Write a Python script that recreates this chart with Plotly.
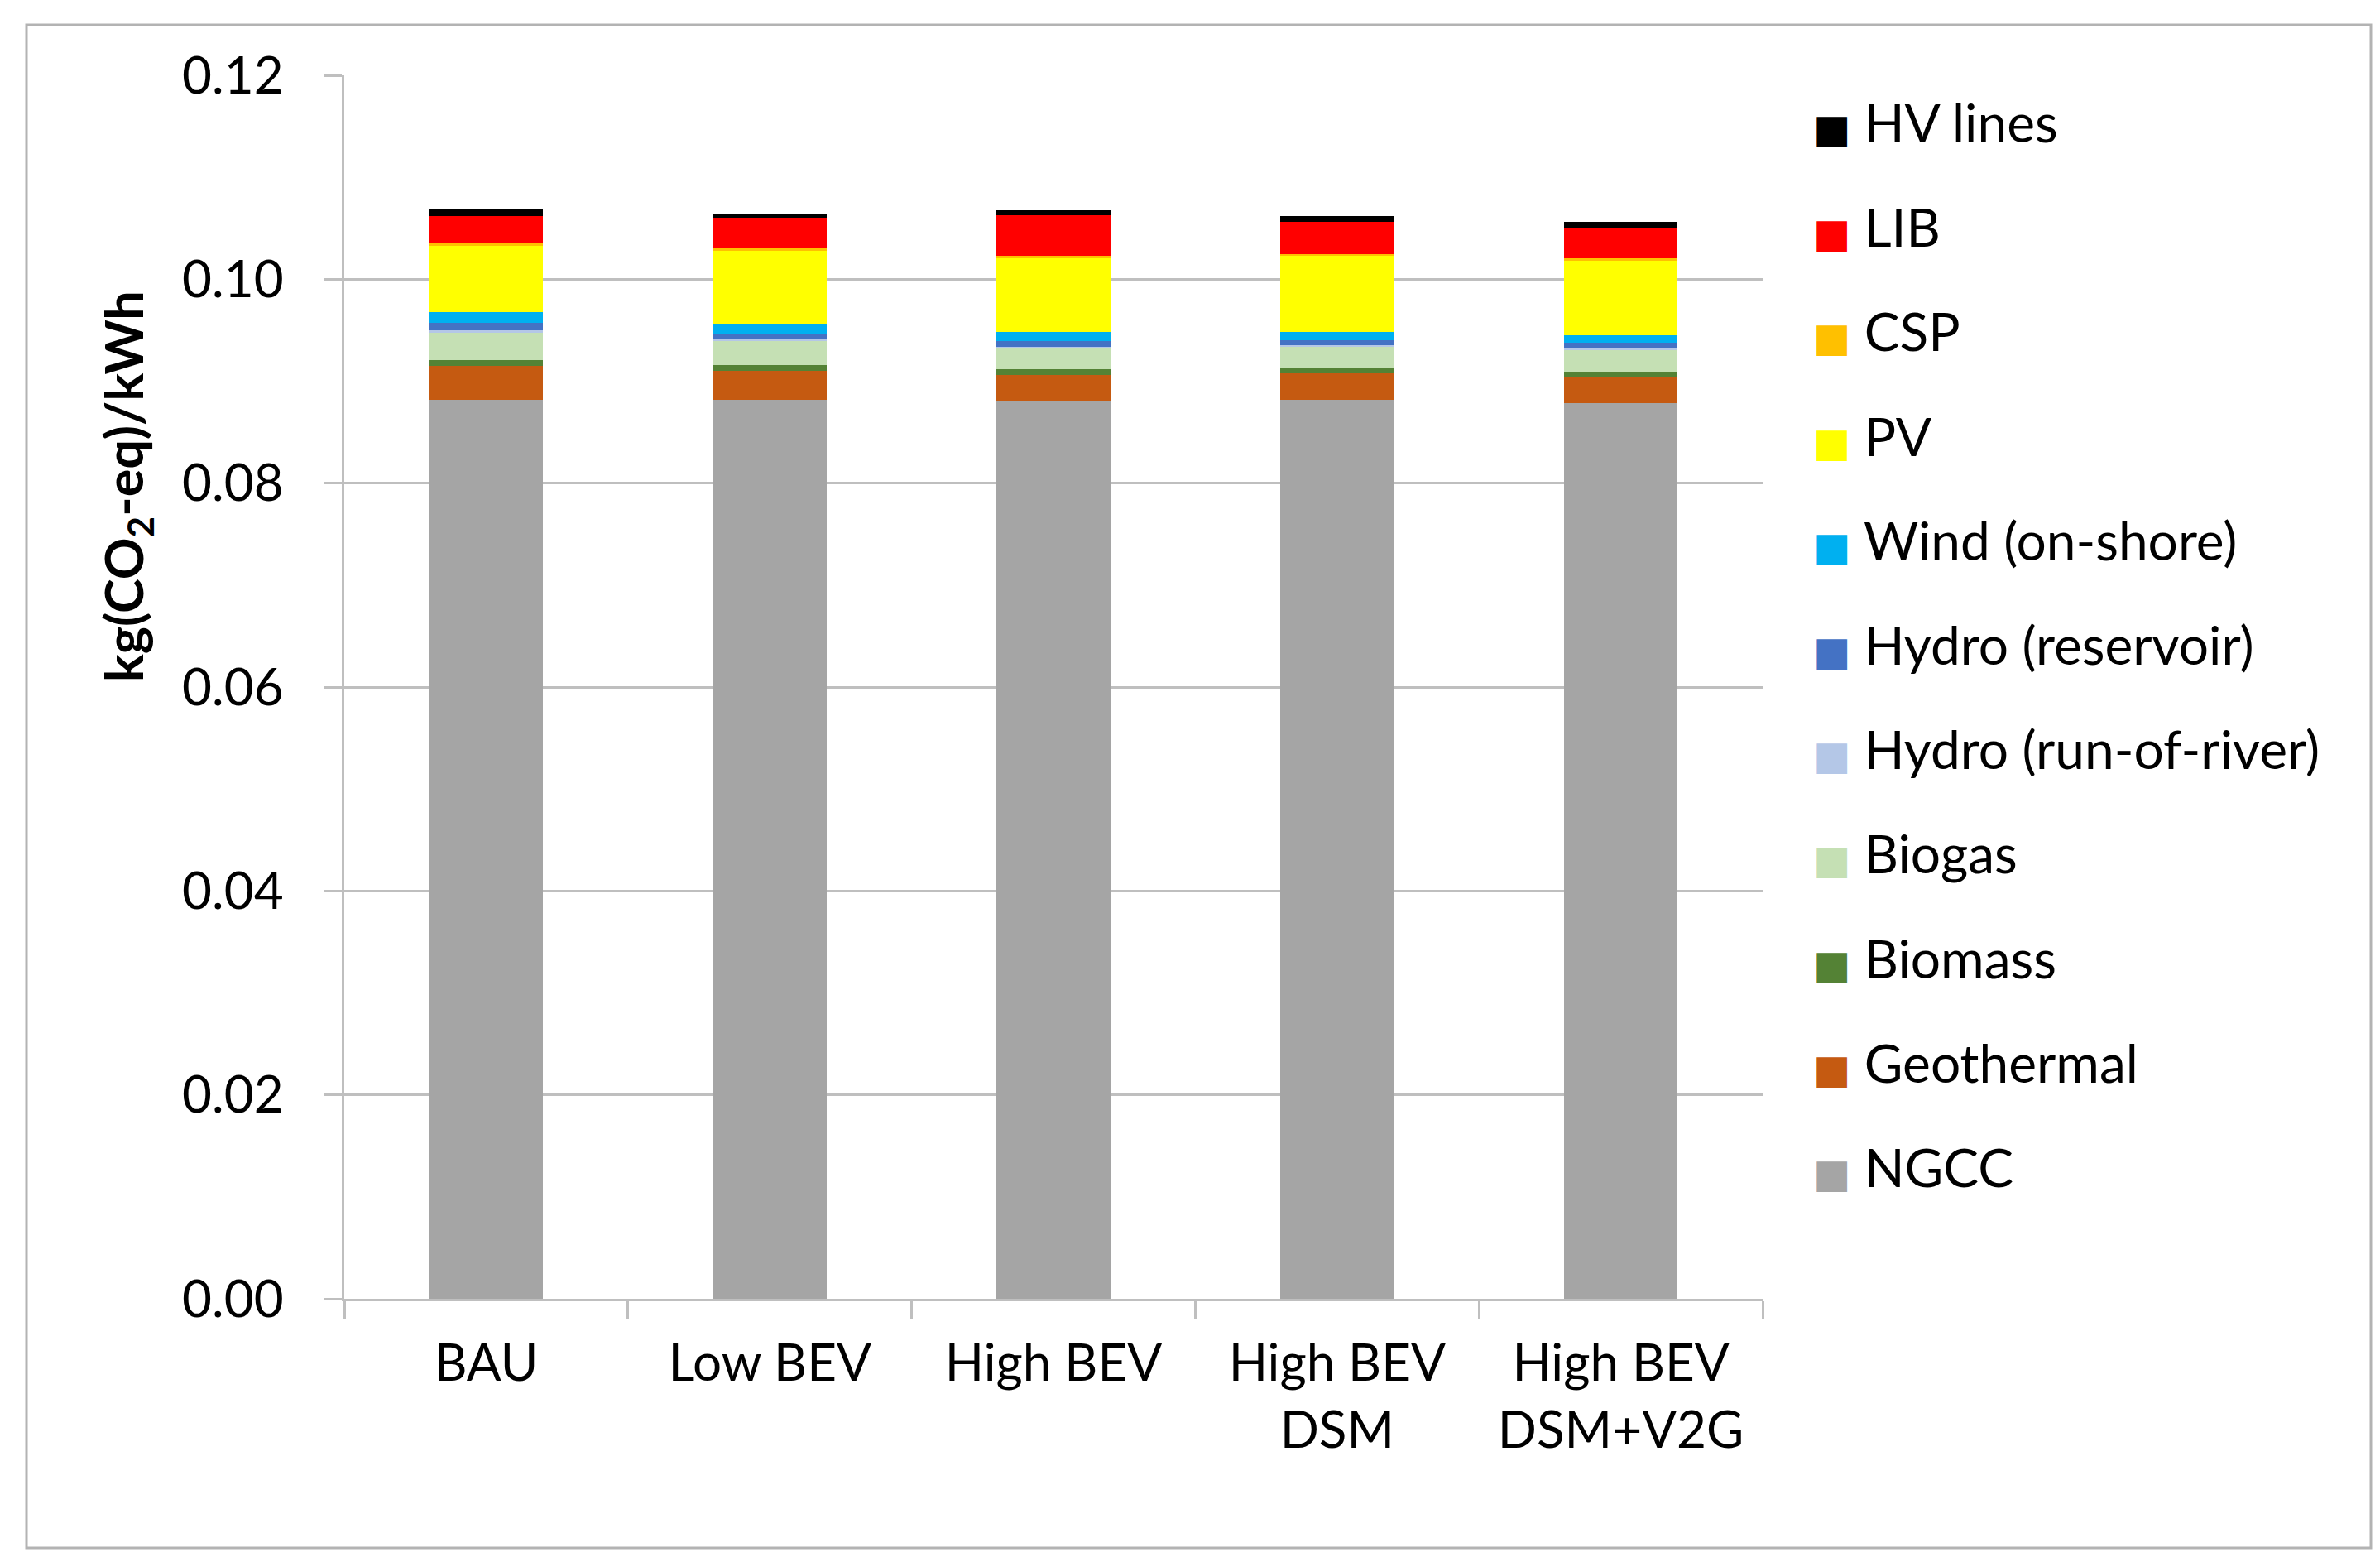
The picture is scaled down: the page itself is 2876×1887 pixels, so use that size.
import plotly.graph_objects as go

categories = ["BAU", "Low BEV", "High BEV", "High BEV<br>DSM", "High BEV<br>DSM+V2G"]

series_names = ["NGCC", "Geothermal", "Biomass", "Biogas", "Hydro (run-of-river)",
                "Hydro (reservoir)", "Wind (on-shore)", "PV", "CSP", "LIB", "HV lines"]

ngcc       = [0.08815, 0.08815, 0.08801, 0.08815, 0.08788]
geothermal = [0.00338, 0.00289, 0.00263, 0.00262, 0.00248]
biomass    = [0.00054, 0.00054, 0.00054, 0.00054, 0.00049]
biogas     = [0.00276, 0.00239, 0.00203, 0.00203, 0.00222]
hydro_ror  = [0.00016, 0.00013, 0.00013, 0.00022, 0.00022]
hydro_res  = [0.00073, 0.00046, 0.00057, 0.00046, 0.00046]
wind       = [0.00109, 0.00103, 0.00092, 0.00081, 0.00073]
pv         = [0.00649, 0.00717, 0.00723, 0.00744, 0.00733]
csp        = [0.00019, 0.00027, 0.00021, 0.00022, 0.00022]
lib        = [0.00271, 0.00298, 0.00401, 0.00311, 0.00295]
hv_lines   = [0.00062, 0.00046, 0.00046, 0.00060, 0.00062]

series_values = [ngcc, geothermal, biomass, biogas, hydro_ror, hydro_res,
                 wind, pv, csp, lib, hv_lines]
series_colors = ["#a5a5a5", "#c55a11", "#548235", "#c5e0b4", "#b4c7e7",
                 "#4472c4", "#00b0f0", "#ffff00", "#ffc000", "#ff0000", "#000000"]

y_ticks = [0.00, 0.02, 0.04, 0.06, 0.08, 0.10, 0.12]

W, H = 2876, 1887
L, R, T, B = 408, 754, 83, 326
pw = W - L - R
ph = H - T - B

def px_x(x):
    return (x - L) / pw

def px_y(y):
    return 1 - (y - T) / ph

FONT = "Lato"
fig = go.Figure()
# stacked bars (bottom to top)
for name, vals, col in zip(series_names, series_values, series_colors):
    fig.add_trace(go.Bar(
        name=name, x=categories, y=vals,
        marker=dict(color=col, line=dict(width=0)),
        legendgroup=name, showlegend=False,
    ))

# legend entries (top to bottom, as in the reference) with a large square key
for name, col in reversed(list(zip(series_names, series_colors))):
    label = ('<span style="font-family:DejaVu Sans;font-size:48px;color:%s">\u25A0</span> %s'
             % (col, name))
    fig.add_trace(go.Scatter(
        name=label, x=[None], y=[None], mode="markers",
        marker=dict(symbol="square", size=1, color="rgba(0,0,0,0)", opacity=0,
                    line=dict(width=0, color="rgba(0,0,0,0)")),
        legendgroup=name, showlegend=True, hoverinfo="skip",
    ))

grid = "#bfbfbf"
fig.update_layout(
    width=W, height=H,
    barmode="stack", bargap=0.6,
    paper_bgcolor="white", plot_bgcolor="white",
    margin=dict(l=L, r=R, t=T, b=B, autoexpand=False),
    font=dict(family=FONT, size=62, color="black"),
    xaxis=dict(
        type="category",
        showgrid=False, showline=True, linecolor=grid, linewidth=3,
        ticks="outside", tickson="boundaries", ticklen=22, tickwidth=3, tickcolor=grid,
        tickfont=dict(family=FONT, size=62), ticklabelstandoff=22,
    ),
    yaxis=dict(
        range=[0, 0.12], tickvals=y_ticks, tickformat=".2f",
        showgrid=True, gridcolor=grid, gridwidth=3,
        showline=True, linecolor=grid, linewidth=3,
        ticks="outside", ticklen=21, tickwidth=3, tickcolor=grid,
        tickfont=dict(family=FONT, size=62), ticklabelstandoff=37,
        zeroline=False,
    ),
    legend=dict(
        x=px_x(2143), y=px_y(91), xanchor="left", yanchor="top",
        traceorder="grouped", tracegroupgap=40,
        font=dict(family=FONT, size=64), bgcolor="rgba(0,0,0,0)",
    ),
    showlegend=True,
)

fig.add_annotation(
    text="<b>kg(CO<sub>2</sub>-eq)/kWh</b>", textangle=-90,
    xref="paper", yref="paper", x=px_x(145), y=px_y(580),
    showarrow=False, font=dict(family=FONT, size=63, color="black"),
    xanchor="center", yanchor="middle",
)

fig.add_shape(type="rect", xref="paper", yref="paper",
              x0=px_x(24), x1=px_x(2857), y0=px_y(1862), y1=px_y(22),
              line=dict(color="#b3b3b3", width=3), fillcolor="rgba(0,0,0,0)", layer="below")

fig.write_html("out.html")
